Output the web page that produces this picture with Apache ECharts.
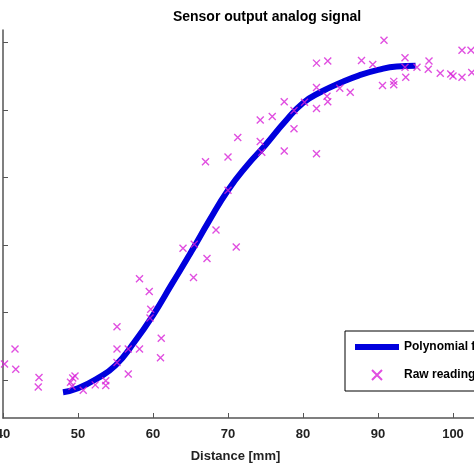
<!DOCTYPE html>
<html><head><meta charset="utf-8">
<script src="https://cdn.jsdelivr.net/npm/echarts@6/dist/echarts.min.js"></script>
<style>html,body{margin:0;padding:0;overflow:hidden;background:#fff}#c{width:474px;height:474px}</style>
</head><body><div id="c"></div>
<script>
// fitted polynomial curve
var fitX = [48, 50, 52.5, 55, 57.5, 60, 62.5, 65, 67.5, 70, 72.5, 75, 77.5, 80, 82.5, 85, 87.5, 90, 92.5, 95];
var fitY = [0.82, 0.88, 1.02, 1.22, 1.56, 1.96, 2.42, 2.88, 3.36, 3.81, 4.17, 4.48, 4.81, 5.10, 5.27, 5.40, 5.51, 5.59, 5.64, 5.65];
// raw readings
var rawX = [40.2, 41.6, 41.7, 44.8, 44.7, 49.0, 49.3, 49.6, 49.2, 50.7, 52.3, 53.7, 53.7, 55.2, 55.2, 55.2, 56.7, 56.7, 58.2, 58.2,
  59.5, 59.7, 59.6, 61.1, 61.0, 64.0, 65.5, 65.4, 67.2, 68.4, 71.1, 67.0, 70.0, 71.3, 70.0, 74.3, 74.3, 74.5, 75.9, 77.5,
  77.5, 78.8, 78.8, 80.2, 81.8, 83.3, 81.8, 81.8, 81.8, 83.2, 83.3, 84.9, 86.3, 87.8, 89.3, 90.8, 90.6, 92.1, 92.1, 93.6,
  93.6, 93.7, 95.2, 96.8, 96.7, 98.3, 99.7, 100.0, 101.2, 101.2, 102.4, 102.5];
var rawY = [1.24, 1.46, 1.16, 1.04, 0.90, 0.97, 1.03, 1.06, 0.91, 0.85, 0.93, 0.99, 0.92, 1.79, 1.46, 1.26, 1.09, 1.46, 2.50, 1.46,
  2.31, 2.05, 1.92, 1.62, 1.33, 2.95, 3.01, 2.52, 2.80, 3.22, 2.97, 4.23, 4.30, 4.59, 3.81, 4.85, 4.53, 4.37, 4.90, 5.12,
  4.39, 4.99, 4.72, 5.11, 5.69, 5.72, 5.33, 5.02, 4.35, 5.20, 5.12, 5.32, 5.26, 5.73, 5.67, 6.03, 5.36, 5.42, 5.37, 5.77,
  5.63, 5.48, 5.63, 5.72, 5.60, 5.54, 5.53, 5.50, 5.48, 5.88, 5.88, 5.55];
var yTicks = [1, 2, 3, 4, 5, 6];

var fitData = fitX.map(function (x, i) { return [x, fitY[i]]; });
var rawData = rawX.map(function (x, i) { return [x, rawY[i]]; });
var font = 'Liberation Sans, Arial, sans-serif';

var myChart = echarts.init(document.getElementById('c'));
var option = {
	animation: false,
	title: {
		text: 'Sensor output analog signal', left: 262, top: 5, textAlign: 'center',
		textStyle: { fontFamily: font, fontSize: 14, fontWeight: 'bold', color: '#000' }
	},
	legend: {
		left: 345, top: 331, orient: 'vertical', itemGap: 16, itemWidth: 44, itemHeight: 10,
		borderColor: '#000', borderWidth: 1, padding: [10, 40, 10, 10],
		textStyle: { fontFamily: font, fontSize: 12, fontWeight: 'bold', color: '#000' },
		data: [
			{ name: 'Polynomial fit', icon: 'path://M0,0L44,0L44,6L0,6Z', itemStyle: { color: '#0000dd' } },
			{ name: 'Raw readings', icon: 'path://M0,0L10,10M10,0L0,10' }
		]
	},
	grid: { left: 3, top: 30, width: 495, bottom: 56, outerBoundsMode: 'none', containLabel: false },
	xAxis: {
		type: 'value', min: 40, max: 106, interval: 10,
		name: 'Distance [mm]', nameLocation: 'middle', nameGap: 32,
		nameTextStyle: { fontFamily: font, fontSize: 13, fontWeight: 'bold', color: '#222', padding: [0, 0, 0, -30] },
		axisLine: { lineStyle: { color: '#555', width: 1.5 } },
		axisTick: { inside: true, length: 5, lineStyle: { color: '#555' } },
		axisLabel: { fontFamily: font, fontSize: 13, fontWeight: 'bold', color: '#222', margin: 10, showMaxLabel: false },
		splitLine: { show: false }
	},
	yAxis: {
		type: 'value', min: 0.44, max: 6.18,
		axisLine: { show: true, lineStyle: { color: '#555', width: 1.5 } },
		axisTick: { show: true, inside: true, length: 5, customValues: yTicks, lineStyle: { color: '#555' } },
		axisLabel: { show: false },
		splitLine: { show: false }
	},
	series: [
		{
			name: 'Polynomial fit', type: 'line', data: fitData, smooth: true, symbol: 'none',
			lineStyle: { color: '#0000dd', width: 6 }, itemStyle: { color: '#0000dd' }, z: 2
		},
		{
			name: 'Raw readings', type: 'scatter', data: rawData,
			symbol: 'path://M0,0L10,10M10,0L0,10', symbolSize: 7,
			itemStyle: { color: 'rgba(0,0,0,0)', borderColor: '#d822d8', borderWidth: 1.4 }, z: 3
		}
	]
};
myChart.setOption(option);
</script>
</body></html>
